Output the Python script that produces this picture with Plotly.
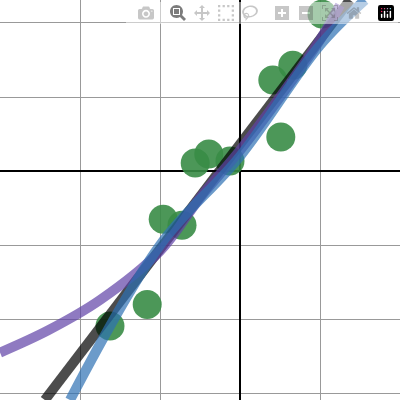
import plotly.graph_objects as go

# scatter points
pt_x = [1.025, 0.66, 0.41, 0.51, -0.56, -0.39, -0.125, -0.96, -0.725, -1.16, -1.625]
pt_y = [2.12, 1.43, 1.23, 0.46, 0.11, 0.23, 0.135, -0.65, -0.73, -1.80, -2.09]

# straight black fit line end points
line_x = [-2.44, 1.375]
line_y = [-3.09, 2.31]

# purple curve, read points
pur_x = [-3.0, -2.4, -1.75, -1.0, -0.5, 0.0, 0.5, 1.0, 1.25]
pur_y = [-2.45, -2.15, -1.74, -1.08, -0.36, 0.28, 1.0, 1.77, 2.24]

# blue curve, read points
blu_x = [-2.125, -1.0, 0.0, 1.0, 1.5625]
blu_y = [-3.09, -1.0, 0.2, 1.70, 2.31]

fig = go.Figure()
fig.add_trace(go.Scatter(x=pt_x, y=pt_y, mode="markers",
                         marker=dict(size=29, color="rgba(56,140,70,0.9)", line_width=0)))
fig.add_trace(go.Scatter(x=line_x, y=line_y, mode="lines",
                         line=dict(color="rgba(0,0,0,0.7)", width=10)))
fig.add_trace(go.Scatter(x=pur_x, y=pur_y, mode="lines", line_shape="spline",
                         line=dict(color="rgba(96,66,166,0.7)", width=10)))
fig.add_trace(go.Scatter(x=blu_x, y=blu_y, mode="lines", line_shape="spline",
                         line=dict(color="rgba(45,112,179,0.7)", width=10)))

axis = dict(dtick=1, showgrid=True, gridcolor="#999", gridwidth=1,
            zeroline=True, zerolinecolor="black", zerolinewidth=2,
            showticklabels=False, ticks="")
fig.update_layout(width=400, height=400, margin=dict(l=0, r=0, t=0, b=0),
                  plot_bgcolor="white", paper_bgcolor="white", showlegend=False,
                  xaxis=dict(range=[-3, 2], **axis),
                  yaxis=dict(range=[-3.09, 2.31], **axis))
fig.write_html("out.html", post_script="document.body.style.margin='0';")
